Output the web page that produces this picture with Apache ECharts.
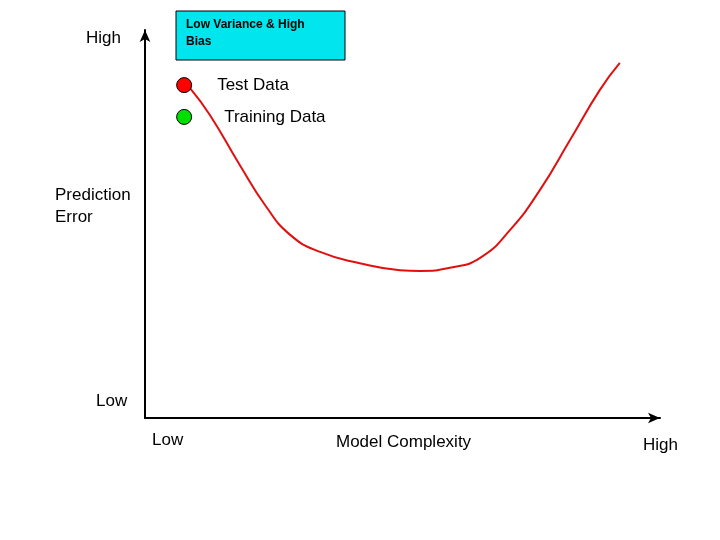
<!DOCTYPE html>
<html>
<head>
<meta charset="utf-8">
<script src="https://cdn.jsdelivr.net/npm/echarts@6/dist/echarts.min.js"></script>
<style>body{margin:0;background:#fff}#chart{width:720px;height:540px}</style>
</head>
<body>
<div id="chart"></div>
<script>
// test error curve (x: complexity 0-100, y: error 0-100)
var curveX = [8.7, 12.6, 18.4, 23.3, 28.2, 34.0, 41.7, 49.5, 53.4, 59.2, 65.0, 70.9, 76.7, 82.5, 88.3, 92.2];
var curveY = [85.1, 78.1, 65.2, 54.9, 47.2, 42.8, 39.9, 38.1, 37.9, 38.7, 41.2, 48.5, 58.8, 71.6, 84.5, 91.5];
var legendNames = ['Test Data', 'Training Data'];
var legendColors = ['#ff0000', '#00e000'];
var legendPos = [[7.6, 85.8], [7.6, 77.6]];
var boxTitle = 'Low Variance & High\nBias';

var curve = curveX.map(function (x, i) { return [x, curveY[i]]; });
var font = 'Liberation Sans, Arial, sans-serif';

var chart = echarts.init(document.getElementById('chart'));
chart.setOption({
    animation: false,
    grid: { left: 145, top: 30, width: 515, height: 388 },
    xAxis: {
        type: 'value', min: 0, max: 100,
        splitLine: { show: false }, axisTick: { show: false }, axisLabel: { show: false },
        axisLine: { lineStyle: { color: '#000', width: 2 }, symbol: ['none', 'arrow'], symbolSize: [8, 12] }
    },
    yAxis: {
        type: 'value', min: 0, max: 100,
        splitLine: { show: false }, axisTick: { show: false }, axisLabel: { show: false },
        axisLine: { lineStyle: { color: '#000', width: 2 }, symbol: ['none', 'arrow'], symbolSize: [8, 12] }
    },
    series: [{
        type: 'line', data: curve, smooth: true, showSymbol: false,
        lineStyle: { color: '#e01010', width: 2 }, z: 2
    }, {
        type: 'scatter', symbolSize: 15, z: 3,
        data: legendPos.map(function (p, i) {
            return {
                value: p,
                itemStyle: { color: legendColors[i], borderColor: '#000', borderWidth: 1, opacity: 1 },
                label: { show: true, position: 'right', distance: 25 + i * 7, formatter: legendNames[i],
                    color: '#000', fontSize: 17, fontFamily: font }
            };
        })
    }],
    graphic: [
        { type: 'rect', shape: { x: 176, y: 11, width: 169, height: 49 },
          style: { fill: '#00e5ee', stroke: '#000', lineWidth: 1 } },
        { type: 'text', left: 186, top: 16, style: { text: boxTitle, fontSize: 12, fontWeight: 'bold', fill: '#000', fontFamily: font, lineHeight: 17 } },
        { type: 'text', left: 86, top: 30, style: { text: 'High', fontSize: 17, fill: '#000', fontFamily: font } },
        { type: 'text', left: 96, top: 393, style: { text: 'Low', fontSize: 17, fill: '#000', fontFamily: font } },
        { type: 'text', left: 55, top: 184, style: { text: 'Prediction\nError', fontSize: 17, fill: '#000', fontFamily: font, lineHeight: 22 } },
        { type: 'text', left: 152, top: 432, style: { text: 'Low', fontSize: 17, fill: '#000', fontFamily: font } },
        { type: 'text', left: 336, top: 434, style: { text: 'Model Complexity', fontSize: 17, fill: '#000', fontFamily: font } },
        { type: 'text', left: 643, top: 437, style: { text: 'High', fontSize: 17, fill: '#000', fontFamily: font } }
    ]
});
</script>
</body>
</html>
